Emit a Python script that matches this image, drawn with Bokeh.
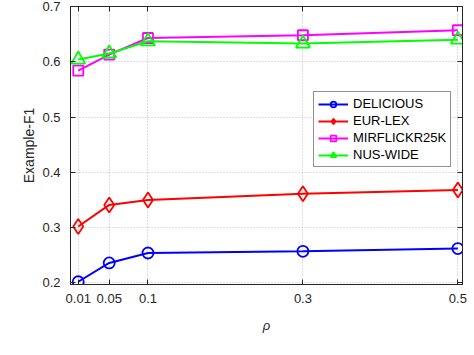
from bokeh.plotting import figure
from bokeh.models import LinearAxis, FixedTicker, Legend, LegendItem, Range1d
from bokeh.embed import file_html
from bokeh.resources import INLINE

rho = [0.01, 0.05, 0.1, 0.3, 0.5]
x_tick_labels = ["0.01", "0.05", "0.1", "0.3", "0.5"]
y_ticks = [0.2, 0.3, 0.4, 0.5, 0.6, 0.7]

delicious = [0.202, 0.236, 0.254, 0.257, 0.262]
eurlex = [0.302, 0.341, 0.350, 0.361, 0.368]
mirflickr = [0.584, 0.613, 0.643, 0.648, 0.657]
nuswide = [0.604, 0.615, 0.637, 0.633, 0.640]

series = [
    ("DELICIOUS", delicious, "#0000ff", "circle", 11),
    ("EUR-LEX", eurlex, "#ff0000", "diamond", 15),
    ("MIRFLICKR25K", mirflickr, "#ff00ff", "square", 10),
    ("NUS-WIDE", nuswide, "#00ff00", "triangle", 14),
]

FONT = "Liberation Sans"
AX = "#262626"

p = figure(width=474, height=355, output_backend="svg", toolbar_location=None,
           x_range=Range1d(0, 0.506), y_range=Range1d(0.197, 0.7),
           min_border_left=70, min_border_right=12, min_border_top=6, min_border_bottom=71)
p.outline_line_color = AX
p.outline_line_width = 1

for ax in p.xaxis:
    ax.ticker = FixedTicker(ticks=rho)
    ax.major_label_overrides = {t: l for t, l in zip(rho, x_tick_labels)}
for ax in p.yaxis:
    ax.ticker = FixedTicker(ticks=y_ticks)

for ax in list(p.xaxis) + list(p.yaxis):
    ax.major_tick_in = 5
    ax.major_tick_out = 0
    ax.minor_tick_in = 0
    ax.minor_tick_out = 0
    ax.axis_line_color = AX
    ax.major_tick_line_color = AX
    ax.major_label_text_font = FONT
    ax.major_label_text_font_size = "13px"
    ax.major_label_text_color = AX
    ax.axis_label_text_font = FONT
    ax.axis_label_text_color = AX

p.xaxis.major_label_standoff = 9
p.yaxis.major_label_standoff = 10
p.xaxis.axis_label = "ρ"
p.xaxis.axis_label_text_font_style = "italic"
p.xaxis.axis_label_text_font_size = "13px"
p.xaxis.axis_label_standoff = 12
p.yaxis.axis_label = "Example-F1"
p.yaxis.axis_label_text_font_style = "normal"
p.yaxis.axis_label_text_font_size = "14px"
p.yaxis.axis_label_standoff = 2

top = LinearAxis(ticker=FixedTicker(ticks=rho),
                 major_label_overrides={t: "" for t in rho},
                 major_tick_in=5, major_tick_out=0, minor_tick_in=0, minor_tick_out=0,
                 axis_line_color=AX, major_tick_line_color=AX, major_label_standoff=0)
right = LinearAxis(ticker=FixedTicker(ticks=y_ticks),
                   major_label_overrides={t: "" for t in y_ticks},
                   major_tick_in=5, major_tick_out=0, minor_tick_in=0, minor_tick_out=0,
                   axis_line_color=AX, major_tick_line_color=AX, major_label_standoff=0)
p.add_layout(top, "above")
p.add_layout(right, "right")

p.xgrid.ticker = FixedTicker(ticks=rho)
p.ygrid.ticker = FixedTicker(ticks=y_ticks)
for g in [p.xgrid, p.ygrid]:
    g.grid_line_color = "#bdbdbd"
    g.grid_line_dash = "1 2"
    g.grid_line_width = 1

items = []
for name, vals, col, mk, sz in series:
    l = p.line(rho, vals, line_color=col, line_width=2)
    s = p.scatter(rho, vals, marker=mk, size=sz,
                  line_color=col, line_width=1.8, fill_color=None)
    items.append(LegendItem(label=name, renderers=[l, s]))

legend = Legend(items=items, location=(243, 117))
legend.label_text_font = FONT
legend.label_text_font_size = "13px"
legend.label_text_color = "#000000"
legend.glyph_width = 30
legend.glyph_height = 14
legend.label_height = 14
legend.spacing = 2
legend.padding = 4
legend.margin = 0
legend.label_standoff = 5
legend.border_line_color = AX
legend.border_line_width = 1
legend.background_fill_color = "white"
p.add_layout(legend, "center")

open("out.html", "w").write(file_html(p, INLINE))
